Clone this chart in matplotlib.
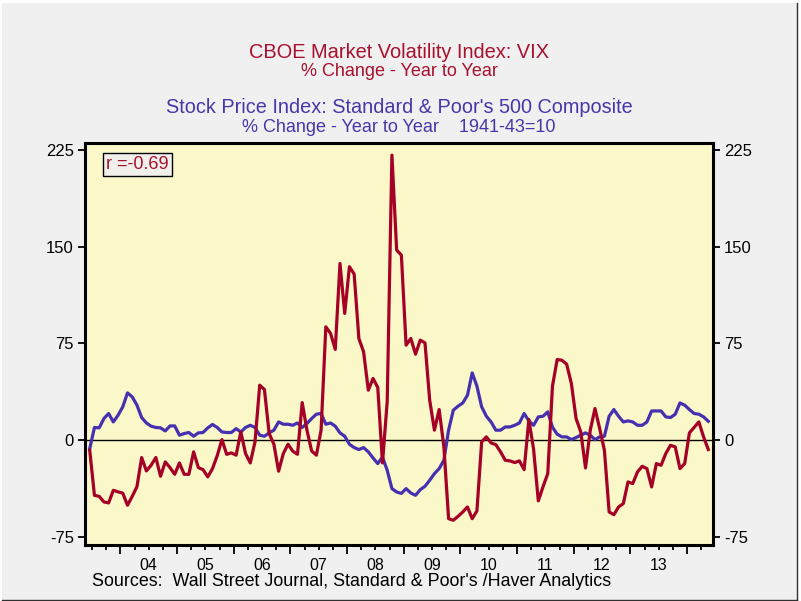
import matplotlib
matplotlib.use("Agg")
import matplotlib.pyplot as plt
from matplotlib.patches import Rectangle
from matplotlib.lines import Line2D
import numpy as np

# Monthly data, June 2003 .. May 2014 (% change, year to year)
start_year = 2003
start_month = 6

vix = [-7.8, -42.7, -43.5, -47.8, -48.6, -38.8, -40.0, -41.0, -50.4, -43.5,
       -36.0, -13.4, -23.8, -19.4, -13.4, -27.9, -16.8, -21.2, -26.4, -17.6,
       -26.4, -26.4, -9.0, -21.2, -22.8, -28.4, -22.0, -12.0, 0.5, -10.9,
       -9.8, -11.6, 6.4, -10.3, -17.6, -1.3, 42.7, 39.3, 5.2, -3.1,
       -24.0, -10.3, -3.1, -8.5, -10.9, 29.2, 7.8, -8.3, -11.6, 7.8,
       87.9, 82.8, 70.4, 137.0, 98.3, 134.5, 128.8, 78.9, 68.5, 38.8,
       47.9, 40.9, -17.6, 30.0, 221.0, 147.4, 143.5, 73.7, 78.9, 66.7,
       77.6, 75.5, 31.0, 7.8, 23.8, -5.0, -60.8, -62.0, -59.0, -55.6,
       -51.7, -60.8, -54.8, -1.3, 2.6, -2.1, -3.4, -9.0, -15.5, -16.0,
       -17.3, -16.0, -22.8, 16.0, -7.0, -47.0, -36.0, -25.9, 42.0, 62.6,
       62.0, 59.0, 44.0, 16.8, 6.4, -21.5, 7.8, 24.6, 9.0, -7.8,
       -55.6, -57.7, -51.7, -49.1, -32.3, -33.6, -24.6, -20.2, -22.0, -36.2,
       -18.1, -19.4, -10.3, -3.9, -5.2, -22.0, -18.1, 5.7, 9.9, 14.2,
       2.6, -7.2]

sp500 = [-6.5, 9.9, 9.6, 16.8, 20.7, 14.2, 19.4, 25.9, 36.7, 33.6,
         27.2, 17.6, 13.4, 10.9, 9.9, 9.6, 7.2, 11.1, 11.1, 3.9,
         5.2, 6.0, 3.1, 5.7, 6.0, 9.6, 12.2, 9.9, 6.4, 6.0,
         6.0, 9.0, 6.4, 9.9, 11.6, 9.9, 3.9, 3.1, 5.7, 7.8,
         14.2, 12.4, 12.4, 11.6, 13.4, 9.9, 13.0, 16.8, 20.2, 20.7,
         12.4, 13.4, 10.9, 5.7, 3.1, -3.1, -5.7, -7.2, -5.7, -9.0,
         -13.7, -18.1, -13.0, -23.3, -37.5, -40.1, -41.2, -37.5, -40.9, -42.7,
         -38.3, -35.7, -31.0, -25.9, -22.0, -15.5, 7.8, 23.3, 26.4, 28.9,
         34.9, 52.2, 41.9, 25.9, 18.6, 14.2, 7.8, 7.8, 10.3, 10.3,
         11.6, 13.4, 20.7, 15.0, 11.6, 18.1, 18.6, 22.0, 10.1, 4.7,
         2.6, 2.6, 0.5, 2.1, 3.9, 5.7, 3.9, 0.5, 2.6, 3.1,
         18.6, 23.8, 18.6, 14.2, 15.0, 14.2, 11.6, 11.6, 14.2, 22.7,
         22.7, 22.7, 18.1, 17.6, 20.2, 28.9, 27.2, 23.8, 20.7, 20.2,
         18.1, 14.7]

year_labels = ["04", "05", "06", "07", "08", "09", "10", "11", "12", "13"]
y_ticks = [-75, 0, 75, 150, 225]
corr_text = "r =-0.69"

red = "#A50026"
blue = "#4630B0"
red_txt = "#A8102E"
blue_txt = "#4A35A8"

# decimal year at mid-month
t = start_year + (start_month - 1 + np.arange(len(vix)) + 0.5) / 12.0

plt.rcParams['font.family'] = ['Liberation Sans', 'DejaVu Sans']
plt.rcParams['axes.unicode_minus'] = False

W, H = 801, 601
fig = plt.figure(figsize=(W / 100, H / 100), dpi=100, facecolor="white")
fig.patches.append(Rectangle((2 / W, 1 / H), 795 / W, 597 / H, transform=fig.transFigure,
                             facecolor="#F0F0F0", edgecolor="none", zorder=-10))
fig.lines.append(Line2D([2 / W, 797 / W], [1.5 / H, 1.5 / H], transform=fig.transFigure,
                        color="#303030", lw=1))
fig.lines.append(Line2D([797 / W, 797 / W], [1.5 / H, 598 / H], transform=fig.transFigure,
                        color="#303030", lw=1))

left, right, top, bottom = 85, 713, 143, 545
ax = fig.add_axes([left / W, 1 - bottom / H, (right - left) / W, (bottom - top) / H])
ax.set_facecolor("#FAF8C8")

ax.axhline(0, color="black", lw=1, zorder=1)
ax.plot(t, sp500, color=blue, lw=2.3, zorder=2, solid_joinstyle="round")
ax.plot(t, vix, color=red, lw=2.3, zorder=3, solid_joinstyle="round")

ax.set_xlim(2003.375, 2014.458)
ax.set_ylim(-81.2, 230.4)

for s in ax.spines.values():
    s.set_linewidth(2.2)
    s.set_color("black")

ax.set_yticks(y_ticks)
ax.tick_params(axis="y", which="both", direction="out", length=5, width=1.3,
               left=True, right=True, labelleft=True, labelright=True,
               labelsize=12, pad=3, colors="black")

years = np.arange(2004, 2015)
ax.set_xticks(years)
quarters = [q for q in np.arange(2003.5, 2014.3, 0.25) if abs(q - round(q)) > 1e-6]
ax.set_xticks(quarters, minor=True)
ax.tick_params(axis="x", which="major", direction="out", length=6.5, width=1.3, labelbottom=False)
ax.tick_params(axis="x", which="minor", direction="out", length=3.5, width=1.3)

xtr = ax.get_xaxis_transform()
for yr, lab in zip(years[:-1], year_labels):
    ax.text(yr + 0.5, -0.052, lab, transform=xtr, ha="center", va="center",
            fontsize=11.5, color="black")

ax.text(0.0334, 0.947, corr_text, transform=ax.transAxes, ha="left", va="center",
        fontsize=13, color=red_txt,
        bbox=dict(boxstyle="square,pad=0.18", facecolor="#F2F0EA", edgecolor="black", lw=1))

cx = 399 / W
fig.text(cx, 1 - 52 / H, "CBOE Market Volatility Index: VIX", ha="center", va="center",
         fontsize=14.4, color=red_txt)
fig.text(cx, 1 - 72 / H, "% Change - Year to Year", ha="center", va="center",
         fontsize=13, color=red_txt)
fig.text(cx, 1 - 107 / H, "Stock Price Index: Standard & Poor's 500 Composite", ha="center",
         va="center", fontsize=14.3, color=blue_txt)
fig.text(cx, 1 - 127 / H, "% Change - Year to Year    1941-43=10", ha="center", va="center",
         fontsize=13, color=blue_txt)
fig.text(92 / W, 1 - 582 / H, "Sources:  Wall Street Journal, Standard & Poor's /Haver Analytics",
         ha="left", va="center", fontsize=12.9, color="black")

fig.savefig("out.png", dpi=100, facecolor=fig.get_facecolor())
